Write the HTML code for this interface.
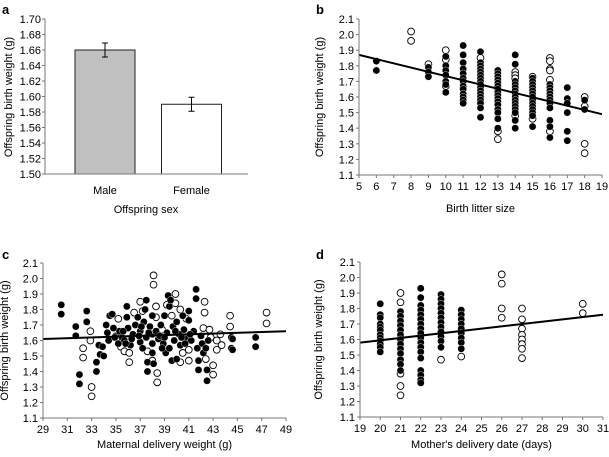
<!DOCTYPE html>
<html><head><meta charset="utf-8"><style>
html,body{margin:0;padding:0;background:#fff}
svg{display:block;font-family:"Liberation Sans",Arial,sans-serif}
</style></head><body>
<svg id="fig" width="609" height="457" viewBox="0 0 609 457" xmlns="http://www.w3.org/2000/svg"></svg>
<script>
// ---- Panel a data ----
const aCategories = ["Male", "Female"];
const aMeans = [1.66, 1.59];
const aErrors = [0.009, 0.009];
const aTicks = ["1.50","1.52","1.54","1.56","1.58","1.60","1.62","1.64","1.66","1.68","1.70"];
// ---- Panel b data ----
const bFilled = [[6,1.83],[6,1.77],[9,1.79],[9,1.76],[9,1.73],[10,1.86],[10,1.80],[10,1.77],[10,1.74],[10,1.70],[10,1.68],[10,1.63],
[11,1.93],[11,1.87],[11,1.82],[11,1.78],[11,1.75],[11,1.72],[11,1.70],[11,1.67],[11,1.65],[11,1.62],[11,1.60],[11,1.58],[11,1.56],
[12,1.89],[12,1.82],[12,1.80],[12,1.78],[12,1.76],[12,1.74],[12,1.72],[12,1.70],[12,1.68],[12,1.66],[12,1.64],[12,1.62],[12,1.60],[12,1.58],[12,1.56],[12,1.53],[12,1.47],
[13,1.77],[13,1.75],[13,1.73],[13,1.71],[13,1.69],[13,1.67],[13,1.65],[13,1.63],[13,1.61],[13,1.59],[13,1.57],[13,1.55],[13,1.52],[13,1.50],[13,1.46],[13,1.40],
[14,1.87],[14,1.81],[14,1.70],[14,1.68],[14,1.66],[14,1.64],[14,1.62],[14,1.60],[14,1.58],[14,1.56],[14,1.54],[14,1.52],[14,1.50],[14,1.45],[14,1.40],
[15,1.72],[15,1.70],[15,1.68],[15,1.66],[15,1.64],[15,1.62],[15,1.60],[15,1.58],[15,1.56],[15,1.54],[15,1.52],[15,1.50],[15,1.48],[15,1.41],
[16,1.68],[16,1.66],[16,1.64],[16,1.62],[16,1.60],[16,1.58],[16,1.56],[16,1.53],[16,1.45],[16,1.41],[16,1.34],
[17,1.66],[17,1.59],[17,1.56],[17,1.50],[17,1.38],[17,1.32],[18,1.58],[18,1.52]];
const bOpen = [[8,2.02],[8,1.96],[9,1.81],[10,1.90],[10,1.84],[10,1.67],[12,1.85],[13,1.38],[13,1.33],[14,1.76],[14,1.74],[14,1.72],[14,1.48],
[15,1.73],[15,1.46],[16,1.85],[16,1.83],[16,1.78],[16,1.77],[16,1.71],[16,1.38],[18,1.60],[18,1.54],[18,1.30],[18,1.24]];
const bLineY = [1.87, 1.49];
const bXTicks = ["5","6","7","8","9","10","11","12","13","14","15","16","17","18","19"];
const yTicks = ["1.1","1.2","1.3","1.4","1.5","1.6","1.7","1.8","1.9","2.0","2.1"];
// ---- Panel c data ----
const cFilled = [[30.5,1.83],[30.5,1.77],[31.7,1.69],[31.7,1.63],[32,1.38],[32,1.32],[32.6,1.79],[32.6,1.72],[33.4,1.46],[33.4,1.40],[33.6,1.57],[33.7,1.51],[33.9,1.56],[34,1.50],[34.2,1.70],[34.3,1.65],[34.4,1.60],[34.5,1.76],[34.7,1.77],[34.8,1.68],[35,1.63],[35.2,1.58],[35.3,1.66],[35.5,1.62],[35.7,1.60],[35.9,1.82],[35.9,1.75],[36,1.68],[36.2,1.57],[36.4,1.64],[36.6,1.70],[36.8,1.75],[37,1.66],[37,1.59],[37.2,1.55],[37.3,1.72],[37.4,1.80],[37.5,1.86],[37.5,1.62],[37.6,1.46],[37.6,1.40],[37.8,1.69],[38,1.76],[38,1.64],[38,1.58],[38,1.52],[38.1,1.45],[38.3,1.66],[38.5,1.61],[38.7,1.70],[38.9,1.58],[39,1.76],[39.1,1.52],[39.2,1.65],[39.3,1.89],[39.4,1.82],[39.4,1.55],[39.5,1.86],[39.6,1.47],[39.7,1.69],[39.8,1.60],[40,1.72],[40,1.48],[40.2,1.64],[40.3,1.57],[40.5,1.76],[40.6,1.67],[40.8,1.61],[41,1.79],[41,1.73],[41.2,1.60],[41.4,1.66],[41.6,1.93],[41.6,1.87],[41.7,1.55],[41.8,1.47],[41.8,1.41],[42,1.63],[42.1,1.58],[42.2,1.52],[42.4,1.55],[42.5,1.41],[42.5,1.34],[42.6,1.60],[44.5,1.62],[44.5,1.55],[44.6,1.61],[44.6,1.54],[46.5,1.62],[46.5,1.56],
[34.9,1.62],[35.6,1.66],[36.3,1.61],[36.9,1.63],[37.7,1.65],[38.6,1.63],[39.0,1.62],[39.9,1.66],[40.4,1.62],[41.1,1.64],[35.8,1.58],[37.1,1.69],[38.8,1.55],[40.7,1.58]];
const cOpen = [[32.3,1.55],[32.3,1.49],[32.9,1.66],[32.9,1.60],[33,1.30],[33,1.24],[35.2,1.74],[35.4,1.56],[35.7,1.53],[36.1,1.52],[36.1,1.46],[36.5,1.78],[37,1.85],[37.2,1.79],[37.6,1.53],[38,1.47],[38.1,2.02],[38.1,1.96],[38.3,1.82],[38.3,1.75],[38.4,1.39],[38.4,1.33],[38.8,1.67],[39.2,1.83],[39.6,1.76],[39.9,1.90],[39.9,1.84],[40.3,1.80],[40.3,1.46],[40.5,1.52],[40.8,1.74],[41,1.47],[41,1.54],[42.3,1.85],[42.3,1.78],[42.2,1.68],[42.4,1.48],[42.7,1.67],[42.8,1.62],[43,1.44],[43,1.38],[43.3,1.60],[43.3,1.54],[43.6,1.64],[43.7,1.57],[44.4,1.76],[44.4,1.69],[47.4,1.78],[47.4,1.71]];
const cLineY = [1.61, 1.66];
const cXTicks = ["29","31","33","35","37","39","41","43","45","47","49"];
// ---- Panel d data ----
const dFilled = [[20,1.83],[20,1.76],[20,1.74],[20,1.70],[20,1.68],[20,1.66],[20,1.63],[20,1.61],[20,1.59],[20,1.57],[20,1.55],[20,1.52],
[21,1.78],[21,1.75],[21,1.72],[21,1.69],[21,1.66],[21,1.63],[21,1.60],[21,1.57],[21,1.54],[21,1.51],[21,1.47],[21,1.44],[21,1.40],
[22,1.93],[22,1.87],[22,1.82],[22,1.79],[22,1.76],[22,1.73],[22,1.70],[22,1.67],[22,1.64],[22,1.61],[22,1.58],[22,1.55],[22,1.52],[22,1.48],[22,1.40],[22,1.37],[22,1.34],[22,1.32],
[23,1.89],[23,1.86],[23,1.83],[23,1.80],[23,1.77],[23,1.74],[23,1.71],[23,1.68],[23,1.65],[23,1.62],[23,1.59],[23,1.55],
[24,1.79],[24,1.76],[24,1.73],[24,1.70],[24,1.67],[24,1.64],[24,1.61],[24,1.58],[24,1.54]];
const dOpen = [[21,1.90],[21,1.84],[21,1.38],[21,1.30],[21,1.24],[23,1.47],[24,1.49],[26,2.02],[26,1.96],[26,1.80],[26,1.74],
[27,1.80],[27,1.73],[27,1.67],[27,1.63],[27,1.60],[27,1.57],[27,1.54],[27,1.48],[30,1.83],[30,1.77]];
const dLineY = [1.58, 1.76];
const dXTicks = ["19","20","21","22","23","24","25","26","27","28","29","30","31"];

const NS = "http://www.w3.org/2000/svg";
const fig = document.getElementById("fig");
function mk(tag, attrs, parent, text) {
  const e = document.createElementNS(NS, tag);
  for (const k in attrs) e.setAttribute(k, attrs[k]);
  if (text !== undefined) e.textContent = text;
  (parent || fig).appendChild(e);
  return e;
}
function txt(x, y, s, anchor, size, parent, rot, bold) {
  const t = mk("text", {x: x, y: y, "text-anchor": anchor, "font-size": size, fill: "#000"}, parent, s);
  if (rot) t.setAttribute("transform", "rotate(-90 " + x + " " + y + ")");
  if (bold) t.setAttribute("font-weight", "bold");
  return t;
}

// ---------- Panel a ----------
(function(){
  const g = mk("g", {});
  
  
  const x0 = 45, x1 = 248, yTop = 19, yBot = 174, vmin = 1.5, vmax = 1.7;
  const ys = v => yBot - (v - vmin) / (vmax - vmin) * (yBot - yTop);
  const l = txt(2, 14, "a", "start", 13, g, false, true);
  
  
  const bw = 60, centers = [105, 191.5], fills = ["#c0c0c0", "#fff"];
  aMeans.forEach((m, i) => {
    const r = mk("rect", {x: centers[i] - bw/2, y: ys(m), width: bw, height: yBot - ys(m), fill: fills[i], stroke: "#222", "stroke-width": 1}, g);
    
    
    const e = mk("path", {d: `M${centers[i]} ${ys(m+aErrors[i])}V${ys(m-aErrors[i])}M${centers[i]-3} ${ys(m+aErrors[i])}h6M${centers[i]-3} ${ys(m-aErrors[i])}h6`, stroke: "#000", "stroke-width": 1, fill: "none"}, g);
    
    
    const c = txt(centers[i], 194, aCategories[i], "middle", 11, g);
    
    
  });
  const ax = mk("path", {d: `M${x0} ${yTop}V${yBot}H${x1}`, stroke: "#777", fill: "none", "stroke-width": 1}, g);
  
  
  aTicks.forEach(t => {
    const y = ys(parseFloat(t));
    mk("line", {x1: x0 - 3, x2: x0, y1: y, y2: y, stroke: "#777"}, g);
    const tl = txt(41, y + 4, t, "end", 11, g);
    
    
  });
  const xt = txt(146, 213, "Offspring sex", "middle", 11, g);
  
  
  const yt = txt(12, 97, "Offspring birth weight (g)", "middle", 11, g, true);
  
  
})();

// ---------- Scatter panels ----------
function scatter(name, label, lx, ly, x0, x1, yTop, yBot, xTicks, filled, open, lineY, xTitle, tickY, titleY, ytx) {
  const g = mk("g", {});
  
  
  const xmin = parseFloat(xTicks[0]), xmax = parseFloat(xTicks[xTicks.length-1]);
  const xs = v => x0 + (v - xmin) / (xmax - xmin) * (x1 - x0);
  const ys = v => yBot - (v - 1.1) / 1.0 * (yBot - yTop);
  const l = txt(lx, ly, label, "start", 13, g, false, true);
  
  
  open.forEach(p => {
    const c = mk("circle", {cx: xs(p[0]), cy: ys(p[1]), r: 3.4, fill: "#fff", stroke: "#000", "stroke-width": 0.9}, g);
    
    
  });
  filled.forEach(p => {
    const c = mk("circle", {cx: xs(p[0]), cy: ys(p[1]), r: 3.6, fill: "#000", stroke: "#fff", "stroke-width": 0.4}, g);
    
    
  });
  const ln = mk("line", {x1: xs(xmin), x2: xs(xmax), y1: ys(lineY[0]), y2: ys(lineY[1]), stroke: "#000", "stroke-width": 2}, g);
  
  
  const ax = mk("path", {d: `M${x0} ${yTop}V${yBot}H${x1}`, stroke: "#777", fill: "none", "stroke-width": 1}, g);
  
  
  yTicks.forEach(t => {
    const y = ys(parseFloat(t));
    mk("line", {x1: x0 - 3, x2: x0, y1: y, y2: y, stroke: "#777"}, g);
    const tl = txt(x0 - 5, y + 4, t, "end", 11, g);
    
    
  });
  xTicks.forEach(t => {
    const x = xs(parseFloat(t));
    mk("line", {x1: x, x2: x, y1: yBot, y2: yBot + 3, stroke: "#777"}, g);
    const tl = txt(x, tickY, t, "middle", 11, g);
    
    
  });
  const xt = txt((x0 + x1) / 2, titleY, xTitle, "middle", 11, g);
  
  
  const yt = txt(ytx, (yTop + yBot) / 2, "Offspring birth weight (g)", "middle", 11, g, true);
  
  
}
scatter("b", "b", 316, 14, 359, 602, 19, 175, bXTicks, bFilled, bOpen, bLineY, "Birth litter size", 190, 212, 323);
scatter("c", "c", 2, 259, 43, 286, 263, 418, cXTicks, cFilled, cOpen, cLineY, "Maternal delivery weight (g)", 433, 448, 8);
scatter("d", "d", 316, 259, 360, 603, 262, 417, dXTicks, dFilled, dOpen, dLineY, "Mother's delivery date (days)", 432, 448, 322);
</script>
</body></html>
